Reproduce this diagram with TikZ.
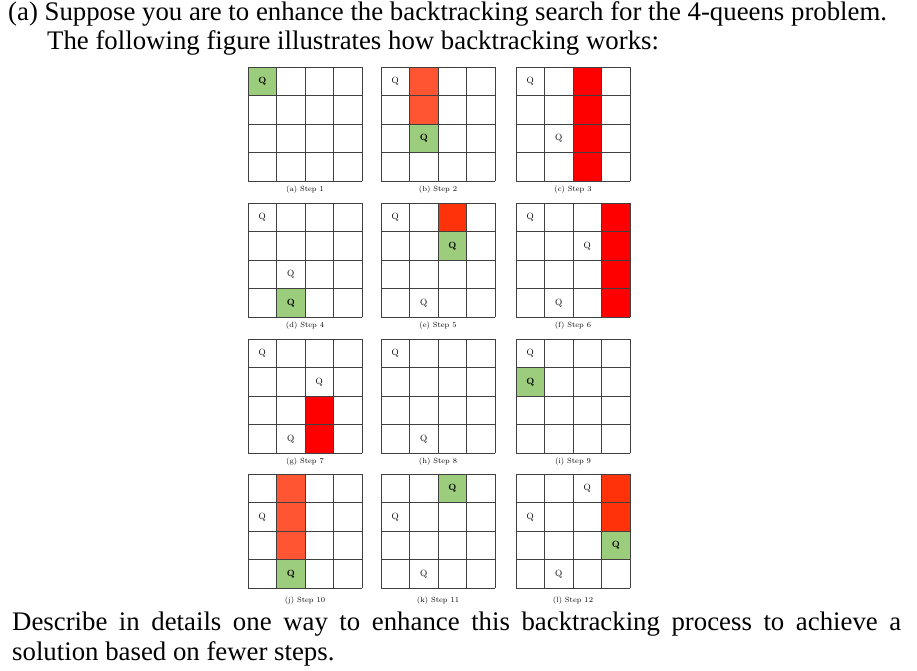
\documentclass[tikz,border=0pt]{standalone}
\usepackage{fontspec}
\setmainfont{Liberation Serif}
\newfontfamily\capfont{Latin Modern Roman}
\definecolor{qgreen}{RGB}{155,205,125}
\definecolor{qred}{RGB}{255,0,0}
\definecolor{qorange}{RGB}{255,85,50}
\definecolor{qor2}{RGB}{255,50,10}
\begin{document}
\begin{tikzpicture}[x=1pt,y=-1pt,
  grid/.style={draw=black!75,line width=0.8pt},
  captxt/.style={font=\capfont\fontsize{7.5}{8}\selectfont},
  qtxt/.style={font=\capfont\fontsize{9}{10}\selectfont},
  body/.style={font=\fontsize{26.8}{30}\selectfont,anchor=north west,inner sep=0pt}]
\useasboundingbox (0,0) rectangle (917,671);
\def\cs{28.5}
\newcommand\fillcell[5]{\fill[#5] (#1+#3*\cs-\cs,#2+#4*\cs-\cs) rectangle (#1+#3*\cs,#2+#4*\cs);}
\newcommand\queen[5]{\node[qtxt] (#5) at (#1+#3*\cs-\cs/2,#2+#4*\cs-\cs/2) {Q};}
\newcommand\bqueen[5]{\fill[qgreen] (#1+#3*\cs-\cs,#2+#4*\cs-\cs) rectangle (#1+#3*\cs,#2+#4*\cs);\node[qtxt,font=\capfont\bfseries\fontsize{9}{10}\selectfont] (#5) at (#1+#3*\cs-\cs/2,#2+#4*\cs-\cs/2) {Q};}
\newcommand\gridat[2]{\foreach \k in {0,...,4}{\draw[grid] (#1+\k*\cs,#2) -- (#1+\k*\cs,#2+4*\cs); \draw[grid] (#1,#2+\k*\cs) -- (#1+4*\cs,#2+\k*\cs);}}
% row 1
\def\X{248}\def\Y{67}
\bqueen{\X}{\Y}{1}{1}{qa}\gridat{\X}{\Y}
\node[captxt] (ca) at (\X+57,\Y+123) {(a) Step 1};
\def\X{381}
\fillcell{\X}{\Y}{2}{1}{qorange}\fillcell{\X}{\Y}{2}{2}{qorange}
\queen{\X}{\Y}{1}{1}{qb1}\bqueen{\X}{\Y}{2}{3}{qb2}\gridat{\X}{\Y}
\node[captxt] (cb) at (\X+57,\Y+123) {(b) Step 2};
\def\X{516}
\foreach \r in {1,...,4}{\fillcell{\X}{\Y}{3}{\r}{qred}}
\queen{\X}{\Y}{1}{1}{qc1}\queen{\X}{\Y}{2}{3}{qc2}\gridat{\X}{\Y}
\node[captxt] (cc) at (\X+57,\Y+123) {(c) Step 3};
% row 2
\def\X{248}\def\Y{203}
\queen{\X}{\Y}{1}{1}{qd1}\queen{\X}{\Y}{2}{3}{qd2}\bqueen{\X}{\Y}{2}{4}{qd3}\gridat{\X}{\Y}
\node[captxt] (cd) at (\X+57,\Y+123) {(d) Step 4};
\def\X{381}
\fillcell{\X}{\Y}{3}{1}{qor2}
\queen{\X}{\Y}{1}{1}{qe1}\bqueen{\X}{\Y}{3}{2}{qe2}\queen{\X}{\Y}{2}{4}{qe3}\gridat{\X}{\Y}
\node[captxt] (ce) at (\X+57,\Y+123) {(e) Step 5};
\def\X{516}
\foreach \r in {1,...,4}{\fillcell{\X}{\Y}{4}{\r}{qred}}
\queen{\X}{\Y}{1}{1}{qf1}\queen{\X}{\Y}{3}{2}{qf2}\queen{\X}{\Y}{2}{4}{qf3}\gridat{\X}{\Y}
\node[captxt] (cf) at (\X+57,\Y+123) {(f) Step 6};
% row 3
\def\X{248}\def\Y{339}
\fillcell{\X}{\Y}{3}{3}{qred}\fillcell{\X}{\Y}{3}{4}{qred}
\queen{\X}{\Y}{1}{1}{qg1}\queen{\X}{\Y}{3}{2}{qg2}\queen{\X}{\Y}{2}{4}{qg3}\gridat{\X}{\Y}
\node[captxt] (cg) at (\X+57,\Y+123) {(g) Step 7};
\def\X{381}
\queen{\X}{\Y}{1}{1}{qh1}\queen{\X}{\Y}{2}{4}{qh2}\gridat{\X}{\Y}
\node[captxt] (ch) at (\X+57,\Y+123) {(h) Step 8};
\def\X{516}
\queen{\X}{\Y}{1}{1}{qi1}\bqueen{\X}{\Y}{1}{2}{qi2}\gridat{\X}{\Y}
\node[captxt] (ci) at (\X+57,\Y+123) {(i) Step 9};
% row 4
\def\X{248}\def\Y{474}
\foreach \r in {1,...,3}{\fillcell{\X}{\Y}{2}{\r}{qorange}}
\queen{\X}{\Y}{1}{2}{qj1}\bqueen{\X}{\Y}{2}{4}{qj2}\gridat{\X}{\Y}
\node[captxt] (cj) at (\X+57,\Y+127) {(j) Step 10};
\def\X{381}
\bqueen{\X}{\Y}{3}{1}{qk1}\queen{\X}{\Y}{1}{2}{qk2}\queen{\X}{\Y}{2}{4}{qk3}\gridat{\X}{\Y}
\node[captxt] (ck) at (\X+57,\Y+127) {(k) Step 11};
\def\X{516}
\fillcell{\X}{\Y}{4}{1}{qor2}\fillcell{\X}{\Y}{4}{2}{qor2}
\queen{\X}{\Y}{3}{1}{ql1}\queen{\X}{\Y}{1}{2}{ql2}\bqueen{\X}{\Y}{4}{3}{ql3}\queen{\X}{\Y}{2}{4}{ql4}\gridat{\X}{\Y}
\node[captxt] (cl) at (\X+57,\Y+127) {(l) Step 12};
% text
\node[body] (t1) at (8,1) {(a) Suppose you are to enhance the backtracking search for the 4-queens problem.};
\node[body] (t2) at (47,30) {The following figure illustrates how backtracking works:};
\node[body,text width=889pt,align=justify] (t3) at (12,612) {Describe in details one way to enhance this backtracking process to achieve a\linebreak \mbox{solution} based on fewer steps.};
\end{tikzpicture}
\end{document}
